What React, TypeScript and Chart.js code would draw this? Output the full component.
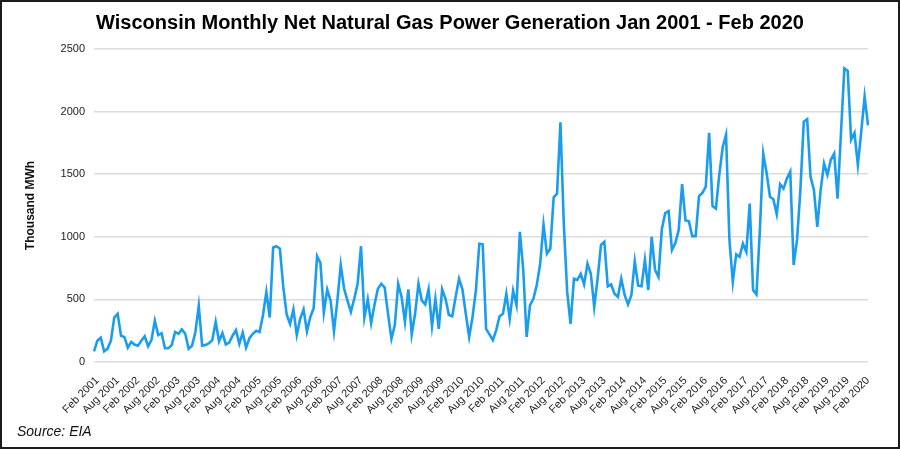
import React, { useEffect, useRef } from "react";
import { Chart, registerables } from "chart.js";

Chart.register(...registerables);

const FONT = "'Liberation Sans', Arial, Helvetica, sans-serif";

const MONTHS = ["Jan", "Feb", "Mar", "Apr", "May", "Jun", "Jul", "Aug", "Sep", "Oct", "Nov", "Dec"];
const START_YEAR = 2001;

// Thousand MWh, monthly, Jan 2001 - Feb 2020
const gen2001 = [85, 170, 195, 85, 105, 170, 355, 385, 210, 200, 115, 160];
const gen2002 = [140, 130, 170, 205, 125, 175, 330, 215, 230, 110, 110, 135];
const gen2003 = [240, 225, 260, 225, 105, 130, 240, 450, 130, 135, 150, 175];
const gen2004 = [320, 165, 230, 140, 155, 210, 255, 145, 235, 115, 190, 225];
const gen2005 = [250, 240, 375, 560, 355, 915, 925, 905, 600, 380, 305, 420];
const gen2006 = [215, 345, 420, 245, 360, 430, 845, 790, 395, 580, 490, 245];
const gen2007 = [490, 775, 585, 490, 400, 505, 625, 925, 355, 500, 310, 460];
const gen2008 = [585, 625, 595, 385, 185, 295, 625, 520, 320, 580, 220, 385];
const gen2009 = [625, 490, 460, 580, 285, 505, 265, 580, 505, 375, 365, 520];
const gen2010 = [665, 580, 385, 200, 360, 575, 945, 940, 265, 220, 175, 255];
const gen2011 = [365, 385, 545, 345, 570, 455, 1040, 735, 200, 455, 505, 615];
const gen2012 = [785, 1095, 865, 905, 1315, 1345, 1915, 1100, 560, 305, 665, 655];
const gen2013 = [705, 620, 785, 705, 440, 665, 935, 960, 605, 620, 545, 520];
const gen2014 = [665, 535, 460, 535, 805, 610, 605, 815, 575, 1000, 735, 680];
const gen2015 = [1060, 1190, 1205, 895, 950, 1055, 1420, 1130, 1125, 1005, 1005, 1325];
const gen2016 = [1350, 1400, 1830, 1245, 1225, 1495, 1715, 1815, 975, 640, 860, 840];
const gen2017 = [945, 880, 1265, 575, 540, 1050, 1665, 1510, 1320, 1300, 1180, 1420];
const gen2018 = [1385, 1465, 1520, 775, 975, 1375, 1920, 1940, 1480, 1375, 1080, 1375];
const gen2019 = [1585, 1495, 1615, 1665, 1305, 1825, 2345, 2325, 1775, 1830, 1575, 1840];
const gen2020 = [2120, 1890];

const seriesValues = [
  ...gen2001, ...gen2002, ...gen2003, ...gen2004, ...gen2005,
  ...gen2006, ...gen2007, ...gen2008, ...gen2009, ...gen2010,
  ...gen2011, ...gen2012, ...gen2013, ...gen2014, ...gen2015,
  ...gen2016, ...gen2017, ...gen2018, ...gen2019, ...gen2020,
];

const categories = seriesValues.map(
  (_, i) => `${MONTHS[i % 12]} ${START_YEAR + Math.floor(i / 12)}`
);

const tickLabels = [
  "Feb 2001", "Aug 2001", "Feb 2002", "Aug 2002", "Feb 2003", "Aug 2003",
  "Feb 2004", "Aug 2004", "Feb 2005", "Aug 2005", "Feb 2006", "Aug 2006",
  "Feb 2007", "Aug 2007", "Feb 2008", "Aug 2008", "Feb 2009", "Aug 2009",
  "Feb 2010", "Aug 2010", "Feb 2011", "Aug 2011", "Feb 2012", "Aug 2012",
  "Feb 2013", "Aug 2013", "Feb 2014", "Aug 2014", "Feb 2015", "Aug 2015",
  "Feb 2016", "Aug 2016", "Feb 2017", "Aug 2017", "Feb 2018", "Aug 2018",
  "Feb 2019", "Aug 2019", "Feb 2020",
];
const tickSet = new Set(tickLabels);

const Y_MIN = 0;
const Y_MAX = 2500;
const Y_STEP = 500;

const TITLE = "Wisconsin Monthly Net Natural Gas Power Generation Jan 2001 - Feb 2020";
const Y_TITLE = "Thousand MWh";
const SOURCE = "Source: EIA";

const framePlugin = {
  id: "frame",
  beforeDraw(chart: any) {
    const { ctx, width, height } = chart;
    ctx.save();
    ctx.fillStyle = "#ffffff";
    ctx.fillRect(0, 0, width, height);
    ctx.restore();
  },
  afterDraw(chart: any) {
    const { ctx, width, height } = chart;
    ctx.save();
    ctx.strokeStyle = "#1c1c1c";
    ctx.lineWidth = 2;
    ctx.strokeRect(1, 1, width - 2, height - 2);
    ctx.restore();
  },
};

export default function App() {
  const canvasRef = useRef<HTMLCanvasElement | null>(null);

  useEffect(() => {
    if (!canvasRef.current) return;
    Chart.defaults.font.family = FONT;
    const chart = new Chart(canvasRef.current, {
      type: "line",
      data: {
        labels: categories,
        datasets: [
          {
            label: "Net generation",
            data: seriesValues,
            borderColor: "#1a9def",
            backgroundColor: "#1a9def",
            borderWidth: 2.6,
            pointRadius: 0,
            tension: 0,
            fill: false,
          },
        ],
      },
      options: {
        responsive: false,
        animation: false,
        layout: { padding: { top: 49, left: 4, right: 32, bottom: 32 } },
        plugins: {
          legend: { display: false },
          tooltip: { enabled: false },
          title: { display: false },
        },
        scales: {
          x: {
            grid: { display: false },
            border: { display: false },
            ticks: {
              autoSkip: false,
              maxRotation: 45,
              minRotation: 45,
              color: "#222",
              font: { family: FONT, size: 11 },
              padding: 4,
              callback: (_v: any, index: number) => {
                const lab = categories[index];
                return tickSet.has(lab) ? lab : null;
              },
            },
            afterFit: (scale: any) => {
              scale.height = 55;
            },
          },
          y: {
            min: Y_MIN,
            max: Y_MAX,
            ticks: {
              stepSize: Y_STEP,
              color: "#222",
              font: { family: FONT, size: 11 },
              padding: 9,
              callback: (v: any) => String(v),
            },
            grid: { color: "#dcdcdc", lineWidth: 1.5, drawTicks: false },
            border: { display: false },
            title: {
              display: true,
              text: Y_TITLE,
              color: "#111",
              font: { family: FONT, size: 12, weight: "bold" },
              padding: { top: 19, bottom: 0 },
            },
            afterFit: (scale: any) => {
              scale.width = 90;
            },
          },
        },
      },
      plugins: [framePlugin],
    });
    return () => chart.destroy();
  }, []);

  return (
    <div
      style={{
        position: "fixed",
        left: 0,
        top: 0,
        width: 900,
        height: 449,
        background: "#fff",
        overflow: "hidden",
      }}
    >
      <canvas ref={canvasRef} width={900} height={449} style={{ display: "block" }} />
      <div
        style={{
          position: "absolute",
          left: 0,
          top: 10,
          width: 900,
          textAlign: "center",
          fontFamily: FONT,
          fontWeight: "bold",
          fontSize: 20,
          lineHeight: "24px",
          color: "#000",
        }}
      >
        {TITLE}
      </div>
      <div
        style={{
          position: "absolute",
          left: 17,
          top: 423,
          fontFamily: FONT,
          fontStyle: "italic",
          fontSize: 14,
          lineHeight: "16px",
          color: "#111",
        }}
      >
        {SOURCE}
      </div>
    </div>
  );
}
